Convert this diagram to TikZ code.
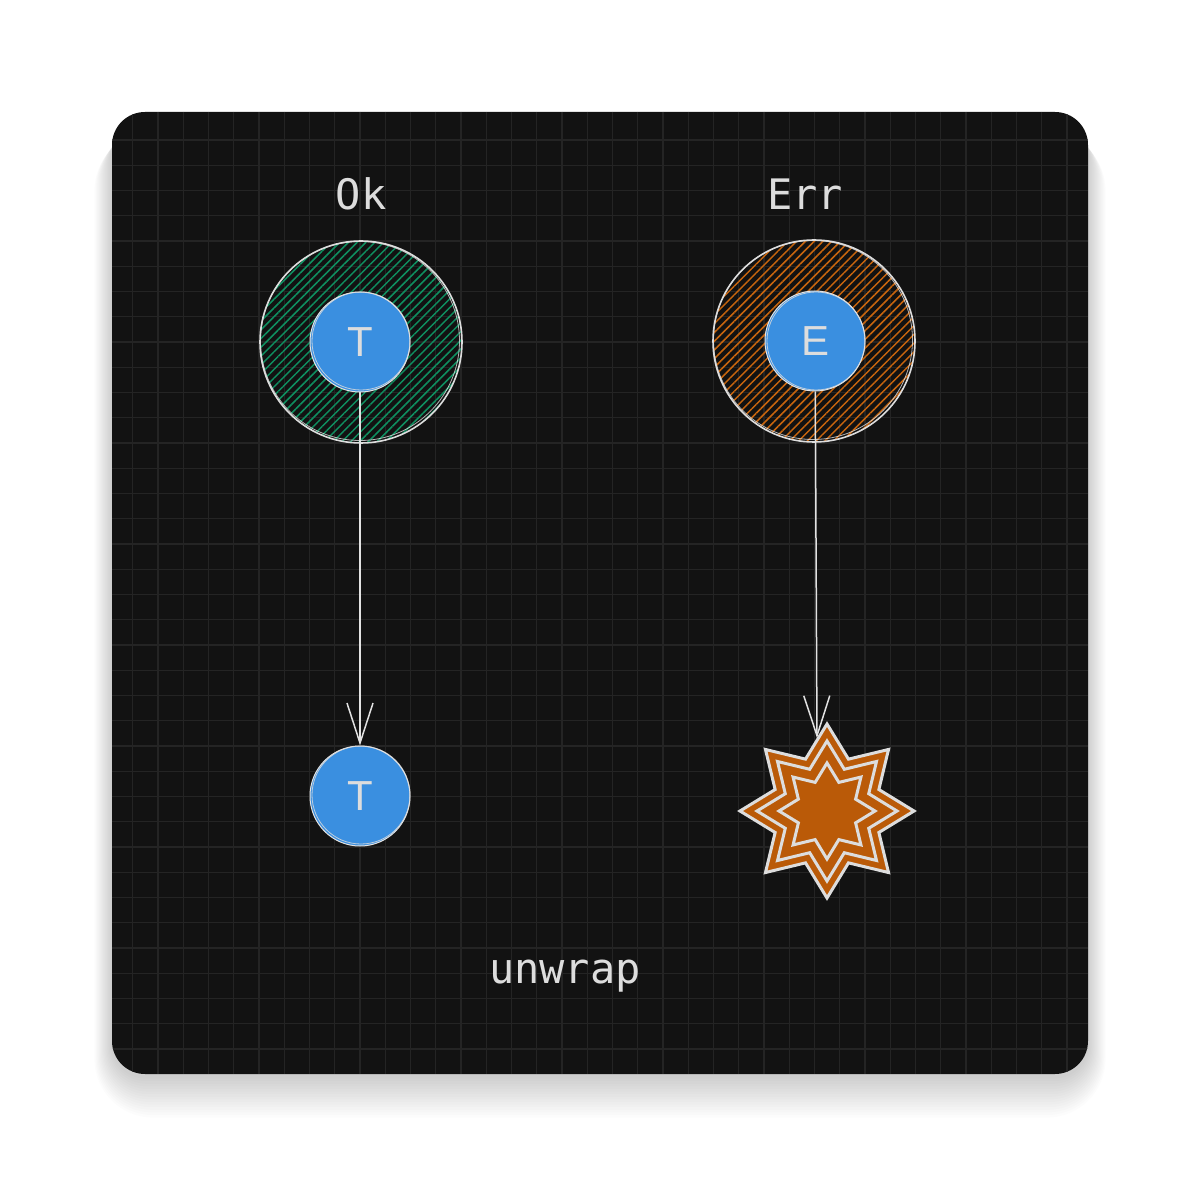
\documentclass[tikz,border=0pt]{standalone}
\usepackage{fontspec}
\setmainfont{Liberation Sans}
\newfontfamily\codefont{DejaVu Sans Mono}
\usetikzlibrary{arrows.meta,shapes.geometric,patterns.meta}
\definecolor{cardbg}{HTML}{121212}
\definecolor{gridc}{HTML}{242424}
\definecolor{inkc}{HTML}{DDDDDD}
\definecolor{blueT}{HTML}{3A8FE0}
\definecolor{hgreen}{HTML}{0F8F60}
\definecolor{horange}{HTML}{C8650E}
\definecolor{starfill}{HTML}{BA5A08}
\tikzset{
  lbl/.style={text=inkc, font=\codefont\fontsize{21}{25}\selectfont, anchor=base, inner sep=0},
  ring/.style={circle, draw=inkc, line width=0.8pt, minimum size=101pt, inner sep=0pt},
  blob/.style={circle, fill=blueT, draw=inkc!80, line width=0.5pt, minimum size=50pt, inner sep=0pt,
    text=inkc, font=\fontsize{21}{25}\selectfont},
  sketch/.style={draw=inkc, line width=0.4pt, opacity=0.8},
  starshape/.style={star, star points=8, star point ratio=1.55, fill=starfill, draw=inkc, line width=1.5pt, inner sep=0pt},
  conn/.style={draw=inkc!85, line width=0.75pt, -{Straight Barb[length=20pt,width=13pt,line width=0.75pt]}},
  hatch/.style={pattern={Lines[angle=45,distance=3.1pt,line width=0.75pt]}},
}
\begin{document}
\begin{tikzpicture}[x=0.5pt,y=-0.5pt]
\useasboundingbox (0,0) rectangle (1200,1187);
\fill[white] (0,0) rectangle (1200,1187);
% soft shadow
\foreach \k in {1,...,16} {
  \fill[black, opacity=0.01, rounded corners={16.5pt+0.8pt*\k}]
    ({112-1.1*\k},{124+0.5*\k}) rectangle ({1088+1.1*\k},{1076+2.6*\k});
}
% card
\path[fill=cardbg, rounded corners=16.5pt] (112,112) rectangle (1088,1074);
\begin{scope}
  \clip[rounded corners=16.5pt] (112,112) rectangle (1088,1074);
  \foreach \i in {0,...,37} {
    \draw[gridc, line width=0.65pt] ({132.7+25.25*\i},112) -- ({132.7+25.25*\i},1074);
  }
  \foreach \i in {0,...,36} {
    \draw[gridc, line width=0.65pt] (112,{140+25.25*\i}) -- (1088,{140+25.25*\i});
  }
\end{scope}

% labels
\node[lbl] (oklbl) at (361,210) {Ok};
\node[lbl] (errlbl) at (805,210) {Err};
\node[lbl] (unwraplbl) at (565,983) {unwrap};

% Ok ring
\node[ring, hatch, pattern color=hgreen] (okring) at (361,342) {};
\draw[sketch] (360,341) circle [radius=99.5];
\node[blob] (okin) at (360,342) {T};
\draw[sketch] (361,341) circle [radius=49];

% Err ring
\node[ring, hatch, pattern color=horange] (errring) at (814,341) {};
\draw[sketch] (813,340) circle [radius=99.5];
\node[blob] (ein) at (815,341) {E};
\draw[sketch] (816,341) circle [radius=49];

% results
\node[blob] (okout) at (360,796) {T};
\draw[sketch] (361,795) circle [radius=49];

\node[starshape, minimum size=87pt] (errstar) at (827,811) {};
\node[starshape, minimum size=70pt] (errstar2) at (827,811) {};
\node[starshape, minimum size=48pt] (errstar3) at (827,811) {};

% connectors
\draw[conn] (okin) -- (okout);
\draw[conn] (ein) -- ([xshift=-5pt,yshift=-8.5pt]errstar.north);
\end{tikzpicture}
\end{document}
